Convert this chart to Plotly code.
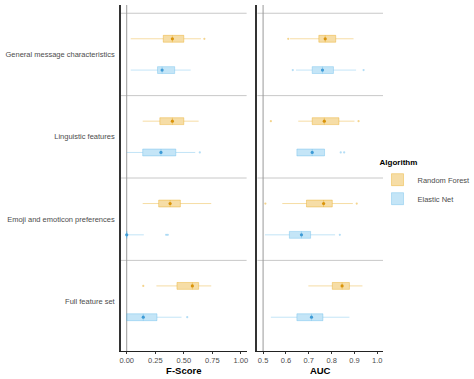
import plotly.graph_objects as go

categories = ["General message characteristics", "Linguistic features",
              "Emoji and emoticon preferences", "Full feature set"]
algorithms = ["Random Forest", "Elastic Net"]

# F-Score
f_rf_low = [0.035, 0.14, 0.14, 0.26]
f_rf_q1 = [0.32, 0.29, 0.28, 0.44]
f_rf_med = [0.40, 0.40, 0.38, 0.575]
f_rf_q3 = [0.50, 0.50, 0.47, 0.63]
f_rf_up = [0.65, 0.63, 0.74, 0.74]
f_rf_out = [[0.68], [], [], [0.145]]

f_en_low = [0.035, 0.0, 0.0, 0.0]
f_en_q1 = [0.27, 0.14, 0.0, 0.0]
f_en_med = [0.31, 0.30, 0.0, 0.145]
f_en_q3 = [0.42, 0.43, 0.0, 0.265]
f_en_up = [0.56, 0.60, 0.15, 0.48]
f_en_out = [[], [0.64], [0.345, 0.36], [0.53]]

# AUC
a_rf_low = [0.618, 0.654, 0.584, 0.698]
a_rf_q1 = [0.744, 0.715, 0.69, 0.803]
a_rf_med = [0.772, 0.768, 0.765, 0.846]
a_rf_q3 = [0.818, 0.832, 0.803, 0.878]
a_rf_up = [0.896, 0.90, 0.893, 0.935]
a_rf_out = [[0.61], [0.534, 0.918], [0.51, 0.91], []]

a_en_low = [0.644, 0.648, 0.508, 0.534]
a_en_q1 = [0.715, 0.648, 0.615, 0.648]
a_en_med = [0.76, 0.715, 0.668, 0.712]
a_en_q3 = [0.808, 0.769, 0.708, 0.762]
a_en_up = [0.907, 0.769, 0.815, 0.878]
a_en_out = [[0.63, 0.94], [0.84, 0.855], [0.836], []]

x_titles = ["F-Score", "AUC"]
f_ticks = [0, 0.25, 0.5, 0.75, 1.0]
f_ticktext = ["0.00", "0.25", "0.50", "0.75", "1.00"]
a_ticks = [0.5, 0.6, 0.7, 0.8, 0.9, 1.0]
a_ticktext = ["0.5", "0.6", "0.7", "0.8", "0.9", "1.0"]

styles = {
    "Random Forest": dict(fill="rgba(230,159,0,0.35)", line="rgba(230,159,0,0.45)",
                          dot="#D9930A", out="rgba(230,159,0,0.45)", grp="rf"),
    "Elastic Net": dict(fill="rgba(86,180,233,0.35)", line="rgba(86,180,233,0.45)",
                        dot="#3E9BD6", out="rgba(86,180,233,0.45)", grp="en"),
}

panels = [
    ("x", "y", {
        "Random Forest": (f_rf_low, f_rf_q1, f_rf_med, f_rf_q3, f_rf_up, f_rf_out),
        "Elastic Net": (f_en_low, f_en_q1, f_en_med, f_en_q3, f_en_up, f_en_out),
    }),
    ("x2", "y2", {
        "Random Forest": (a_rf_low, a_rf_q1, a_rf_med, a_rf_q3, a_rf_up, a_rf_out),
        "Elastic Net": (a_en_low, a_en_q1, a_en_med, a_en_q3, a_en_up, a_en_out),
    }),
]

fig = go.Figure()
for pi, (xa, ya, data) in enumerate(panels):
    for alg in algorithms:
        low, q1, med, q3, up, outs = data[alg]
        s = styles[alg]
        fig.add_trace(go.Box(
            y=categories, q1=q1, median=med, q3=q3, lowerfence=low, upperfence=up,
            orientation="h", name=alg, legendgroup=alg, showlegend=(pi == 0),
            fillcolor=s["fill"], line=dict(color=s["line"], width=0.8),
            whiskerwidth=0, boxpoints=False, offsetgroup=s["grp"],
            alignmentgroup="p%d" % pi, xaxis=xa, yaxis=ya,
        ))
for pi, (xa, ya, data) in enumerate(panels):
    for alg in algorithms:
        low, q1, med, q3, up, outs = data[alg]
        s = styles[alg]
        fig.add_trace(go.Scatter(
            x=med, y=categories, mode="markers", orientation="h",
            marker=dict(size=3.2, color=s["dot"]), showlegend=False,
            offsetgroup=s["grp"], alignmentgroup="s%d" % pi, xaxis=xa, yaxis=ya,
        ))
        ox, oy = [], []
        for c, vals in zip(categories, outs):
            for v in vals:
                ox.append(v)
                oy.append(c)
        fig.add_trace(go.Scatter(
            x=ox, y=oy, mode="markers", orientation="h",
            marker=dict(size=2.2, color=s["out"]), showlegend=False,
            offsetgroup=s["grp"], alignmentgroup="s%d" % pi, xaxis=xa, yaxis=ya,
        ))

W, H = 474, 379
ML, MR, MT, MB = 120.7, W - 383.5, 5, H - 351.5
PW = W - ML - MR
xdom1 = [0, 126 / PW]
xdom2 = [(257.5 - ML) / PW, 1]
font = "Liberation Sans, Arial, sans-serif"
tickfont = dict(family=font, size=7.5, color="#4D4D4D")

common_x = dict(showgrid=False, zeroline=False, showline=True, linecolor="#222222",
                linewidth=0.8, ticks="outside", ticklen=2.5, tickcolor="#333333",
                tickwidth=0.7, tickfont=tickfont, automargin=False)
common_y = dict(showgrid=False, zeroline=False, showline=True, linecolor="#333333",
                linewidth=1.6, ticks="", type="category", categoryorder="array",
                categoryarray=categories, range=[len(categories) - 0.4, -0.6],
                domain=[0, 1], automargin=False)

fig.update_layout(
    width=W, height=H, margin=dict(l=ML, r=MR, t=MT, b=MB, autoexpand=False),
    plot_bgcolor="white", paper_bgcolor="white",
    boxmode="group", boxgap=0.24, boxgroupgap=0.78,
    scattermode="group", scattergap=0.24,
    font=dict(family=font),
    xaxis=dict(domain=xdom1, range=[-0.05, 1.05], tickvals=f_ticks, ticktext=f_ticktext,
               anchor="y",
               title=dict(text="<b>%s</b>" % x_titles[0], font=dict(family=font, size=9.5, color="black"),
                          standoff=1), **common_x),
    xaxis2=dict(domain=xdom2, range=[0.475, 1.025], tickvals=a_ticks, ticktext=a_ticktext,
                anchor="y2",
                title=dict(text="<b>%s</b>" % x_titles[1], font=dict(family=font, size=9.5, color="black"),
                           standoff=1), **common_x),
    yaxis=dict(anchor="x", showticklabels=True, tickfont=tickfont, ticklabelstandoff=3, **common_y),
    yaxis2=dict(anchor="x2", showticklabels=False, **common_y),
    legend=dict(x=(378 - ML) / PW, y=1 - (155 - MT) / (H - MT - MB), xanchor="left", yanchor="top",
                title=dict(text="<b>Algorithm</b>", font=dict(family=font, size=8, color="black")),
                font=dict(family=font, size=7.5, color="#4D4D4D"),
                tracegroupgap=0, itemwidth=30, bgcolor="rgba(0,0,0,0)"),
)

# separators between categories and reference lines
shapes = []
for xa, ya in [("x", "y"), ("x2", "y2")]:
    for k in range(len(categories)):
        shapes.append(dict(type="line", xref="%s domain" % xa, yref=ya, x0=0, x1=1,
                           y0=k - 0.5, y1=k - 0.5, line=dict(color="#C8C8C8", width=1), layer="below"))
shapes.append(dict(type="line", xref="x", yref="y domain", x0=0, x1=0, y0=0, y1=1,
                   line=dict(color="#9A9A9A", width=1), layer="below"))
shapes.append(dict(type="line", xref="x2", yref="y2 domain", x0=0.5, x1=0.5, y0=0, y1=1,
                   line=dict(color="#9A9A9A", width=1), layer="below"))
fig.update_layout(shapes=shapes)

fig.write_html("out.html", config={"displayModeBar": False},
               post_script="document.body.style.margin='0';document.body.style.padding='0';")
